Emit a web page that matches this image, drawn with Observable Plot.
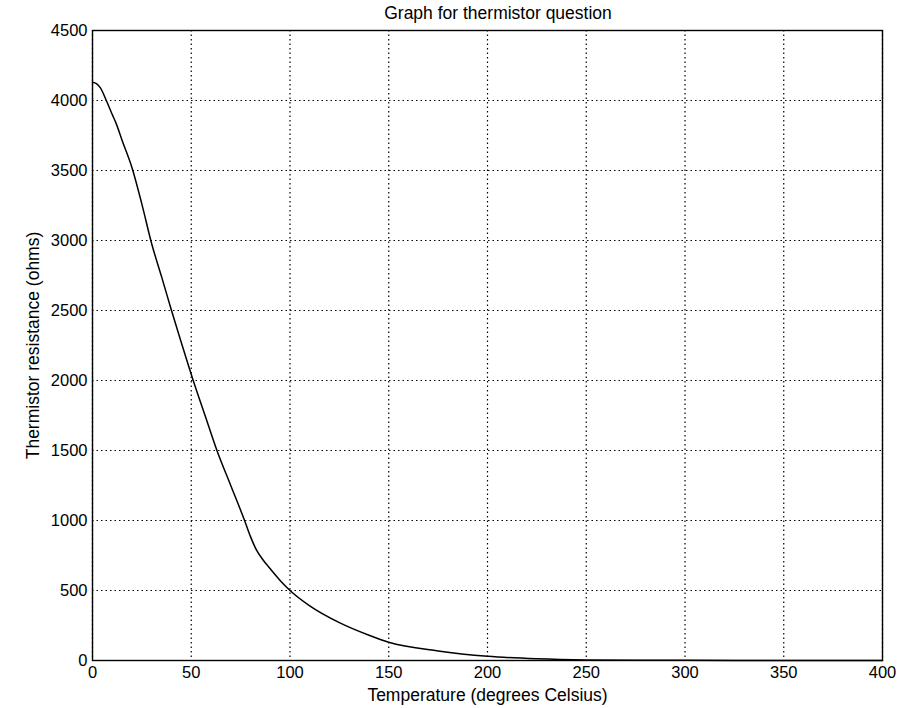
<!DOCTYPE html>
<html>
<head>
<meta charset="utf-8">
<script src="https://cdn.jsdelivr.net/npm/d3@7"></script>
<script src="https://cdn.jsdelivr.net/npm/@observablehq/plot@0.6"></script>
<style>
  html, body { margin: 0; padding: 0; background: #fff; }
  #wrap { position: relative; width: 906px; height: 708px; font-family: "Liberation Sans", Arial, sans-serif; }
  #title { position: absolute; top: 3px; left: 498px; transform: translateX(-50%); font-size: 17.5px; color: #000; white-space: nowrap; }
  #chart { position: absolute; top: 0; left: 0; }
</style>
</head>
<body>
<div id="wrap">
  <div id="chart"></div>
  <div id="title"></div>
</div>
<script>
const chartTitle = "Graph for thermistor question";
const xLabel = "Temperature (degrees Celsius)";
const yLabel = "Thermistor resistance (ohms)";
const xTicks = [0, 50, 100, 150, 200, 250, 300, 350, 400];
const yTicks = [0, 500, 1000, 1500, 2000, 2500, 3000, 3500, 4000, 4500];

const temperature = [0, 2, 4, 7, 10, 12, 15, 20, 25, 30, 35, 40, 45, 51, 57, 63, 70, 77, 80, 83, 86, 90, 95, 100, 110, 125, 140, 150, 175, 200, 225, 250, 275, 300, 350, 400];
const resistance  = [4130, 4120, 4090, 4000, 3900, 3835, 3715, 3520, 3260, 2975, 2740, 2500, 2270, 2000, 1750, 1500, 1250, 1000, 885, 790, 725, 655, 572, 500, 390, 270, 180, 130, 68, 30, 12, 4, 2, 1, 0, 0];

document.getElementById("title").textContent = chartTitle;

const data = temperature.map((t, i) => ({t, r: resistance[i]}));

const plot = Plot.plot({
  width: 906,
  height: 708,
  marginLeft: 92,
  marginRight: 24,
  marginTop: 30,
  marginBottom: 48,
  style: {fontFamily: "'Liberation Sans', Arial, sans-serif", fontSize: "16.5px", color: "#000", background: "#fff"},
  x: {domain: [0, 400]},
  y: {domain: [0, 4500]},
  marks: [
    Plot.gridX(xTicks, {stroke: "#000", strokeOpacity: 1, strokeWidth: 1.2, strokeDasharray: "1.5,3"}),
    Plot.gridY(yTicks, {stroke: "#000", strokeOpacity: 1, strokeWidth: 1.2, strokeDasharray: "1.5,3"}),
    Plot.axisX(xTicks, {tickSize: 0, tickPadding: 6, tickFormat: d => String(d), label: null}),
    Plot.axisY(yTicks, {tickSize: 0, tickPadding: 5, tickFormat: d => String(d), label: null}),
    Plot.axisX({ticks: [], label: xLabel, labelAnchor: "center", labelArrow: "none", labelOffset: 40, fontSize: "17.5px"}),
    Plot.axisY({ticks: [], label: yLabel, labelAnchor: "center", labelArrow: "none", labelOffset: 66, fontSize: "17.5px"}),
    Plot.frame({stroke: "#000", strokeWidth: 1.4}),
    Plot.line(data, {x: "t", y: "r", stroke: "#000", strokeWidth: 1.5, curve: "monotone-x"})
  ]
});
document.getElementById("chart").appendChild(plot);
</script>
</body>
</html>
